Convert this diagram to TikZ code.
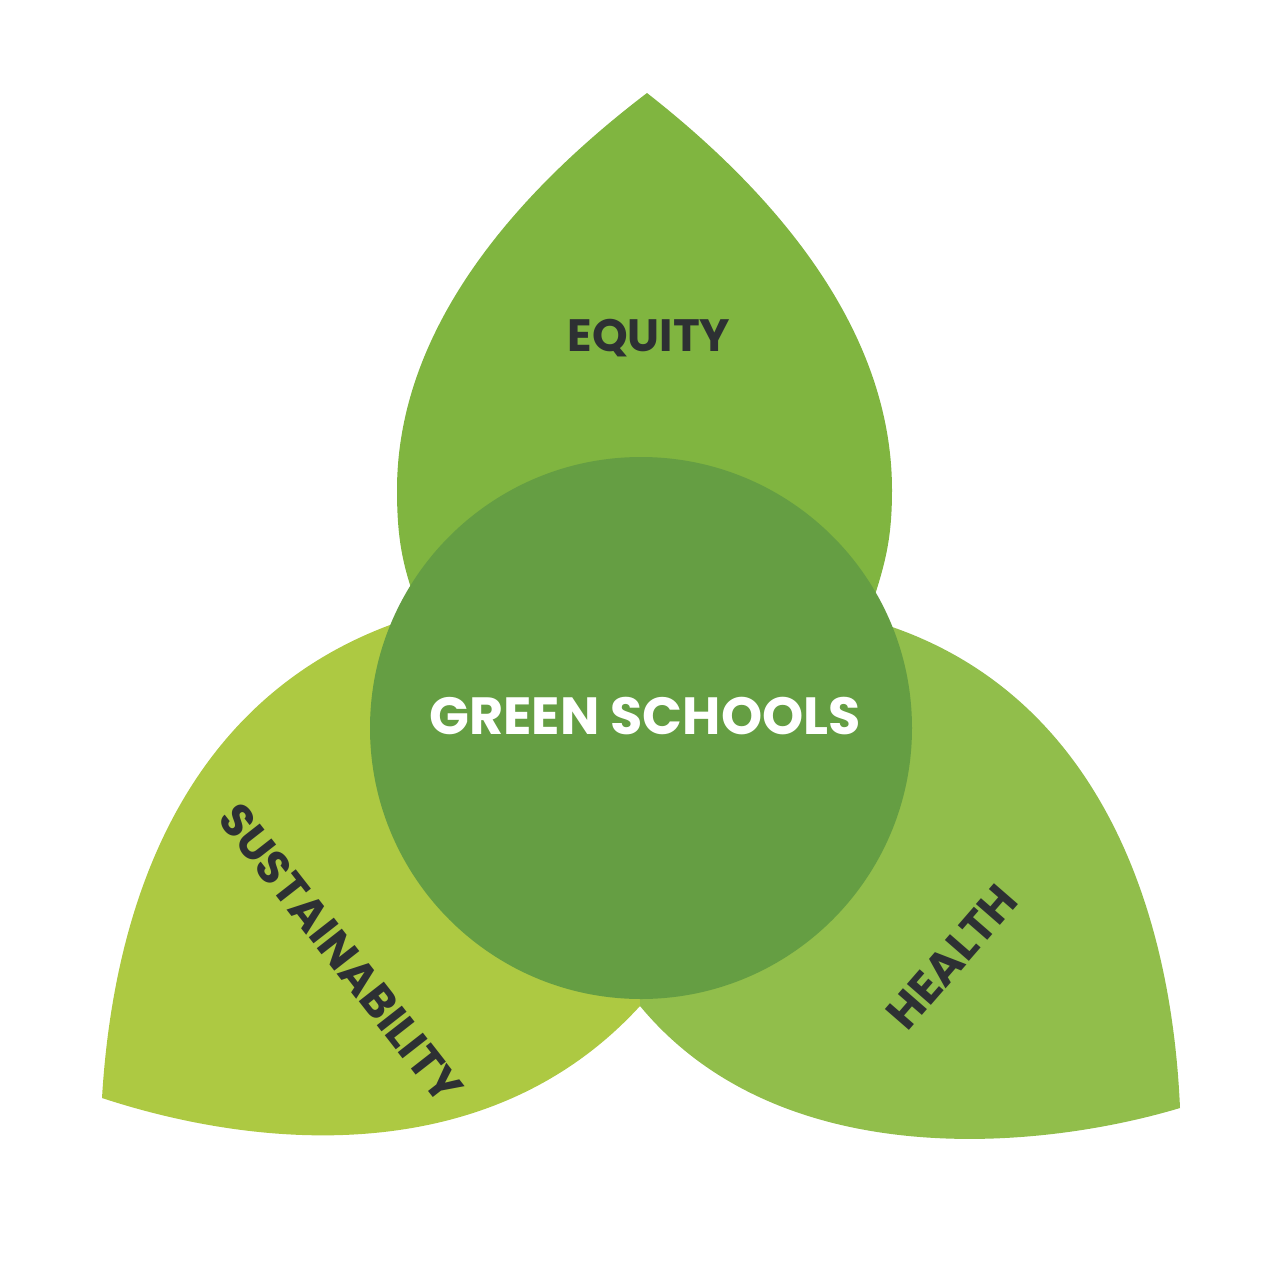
\documentclass[tikz,border=0pt]{standalone}
\usepackage{fontspec}
\setmainfont{Poppins}
\definecolor{leaftop}{HTML}{80B540}
\definecolor{leafleft}{HTML}{ADC942}
\definecolor{leafright}{HTML}{91BE4B}
\definecolor{hubgreen}{HTML}{659E43}
\definecolor{inkdark}{HTML}{2D3033}
\begin{document}
\begin{tikzpicture}[x=0.1mm, y=-0.1mm,
    word/.style = {font=\bfseries\fontsize{12.9}{14}\selectfont,
      text=inkdark, inner sep=0pt, text depth=0pt},
    bigword/.style = {font=\bfseries\fontsize{14.9}{16}\selectfont,
      text=white, inner sep=0pt, text depth=0pt},
    hub/.style = {shape=circle, fill=hubgreen,
      minimum size=54.2mm, inner sep=0pt}]
  \useasboundingbox (0,0) rectangle (1280,1280);
  \coordinate (mid) at (641,728);
  \coordinate (notch) at (640,1006);
  \coordinate (tipT) at (647,93);
  \coordinate (tipL) at (102,1098);
  \coordinate (tipR) at (1180,1108);
  % three leaves
  \fill[leafleft] (tipL) .. controls (260,1150) and (490,1170) .. (notch)
    -- (mid) -- (420,615) .. controls (200,680) and (115,880) .. (tipL) -- cycle;
  \fill[leafright] (tipR) .. controls (1040,1150) and (780,1175) .. (notch)
    -- (mid) -- (870,620) .. controls (1080,680) and (1170,880) .. (tipR) -- cycle;
  \fill[leaftop] (tipT) .. controls (500,205) and (397,340) .. (397,490)
    .. controls (397,540) and (403,565) .. (415,600) -- (mid) -- (870,610)
    .. controls (885,565) and (892,540) .. (892,490)
    .. controls (892,340) and (790,205) .. (tipT) -- cycle;
  % centre
  \node[hub] (hub) at (mid) {};
  \node[bigword] (schools) at (645,716) {GREEN SCHOOLS};
  \node[word] (equity) at (649,335) {EQUITY};
  \node[word, rotate=-52] (sustain) at (341,953) {SUSTAINABILITY};
  \node[word, rotate=49] (health) at (952,957) {HEALTH};
\end{tikzpicture}
\end{document}
